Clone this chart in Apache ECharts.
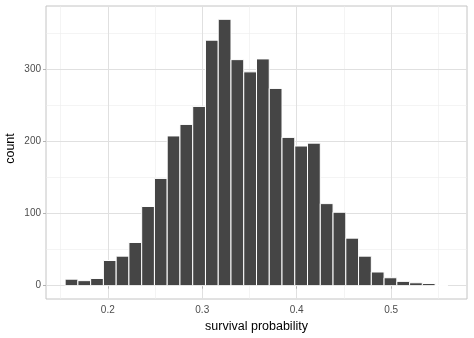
<!DOCTYPE html>
<html>
<head>
<meta charset="utf-8">
<script src="https://cdn.jsdelivr.net/npm/echarts@6/dist/echarts.min.js"></script>
<style>html,body{margin:0;padding:0;background:#fff}#c{width:474px;height:338px}</style>
</head>
<body>
<div id="c"></div>
<script>
// histogram data (30 bins)
const binStart = 0.1548;
const binWidth = 0.01351;
const counts = [9, 7, 10, 35, 41, 60, 110, 149, 208, 224, 249, 341, 370, 314, 297, 315, 274, 206, 194, 198, 114, 102, 66, 41, 19, 11, 6, 4, 3, 0];
const xTicks = [0.2, 0.3, 0.4, 0.5];
const xMinor = [0.15, 0.25, 0.35, 0.45, 0.55];
const yTicks = [0, 100, 200, 300];
const yMinor = [50, 150, 250, 350];

const binData = counts.map((c, i) => [binStart + i * binWidth, binStart + (i + 1) * binWidth, c]);
const xLo = binStart, xHi = binStart + counts.length * binWidth;
const xPad = (xHi - xLo) * 0.05;
const yMax = Math.max(...counts), yPad = yMax * 0.05;

const chart = echarts.init(document.getElementById('c'), null, {renderer: 'canvas'});
const gridLines = [];
xMinor.forEach(v => gridLines.push({xAxis: v, lineStyle: {color: '#ececec', width: 0.6, type: 'solid'}}));
yMinor.forEach(v => gridLines.push({yAxis: v, lineStyle: {color: '#ececec', width: 0.6, type: 'solid'}}));
xTicks.forEach(v => gridLines.push({xAxis: v, lineStyle: {color: '#e0e0e0', width: 1, type: 'solid'}}));
yTicks.forEach(v => gridLines.push({yAxis: v, lineStyle: {color: '#e0e0e0', width: 1, type: 'solid'}}));

chart.setOption({
  animation: false,
  textStyle: {fontFamily: 'Liberation Sans, Arial, sans-serif'},
  grid: {left: 46, right: 7, top: 6, bottom: 39, show: true, borderColor: '#c4c4c4', borderWidth: 1, backgroundColor: 'transparent', outerBoundsMode: 'none', containLabel: false},
  xAxis: {
    type: 'value', min: xLo - xPad, max: xHi + xPad,
    name: 'survival probability', nameLocation: 'middle', nameGap: 20,
    nameTextStyle: {color: '#000', fontSize: 12.5},
    axisLine: {show: false},
    splitLine: {show: false},
    axisTick: {show: true, customValues: xTicks, length: 3, lineStyle: {color: '#b3b3b3'}},
    axisLabel: {customValues: xTicks, color: '#4d4d4d', fontSize: 10, margin: 6, formatter: v => String(v)}
  },
  yAxis: {
    type: 'value', min: -yPad, max: yMax + yPad,
    name: 'count', nameLocation: 'middle', nameGap: 29, nameRotate: 90, nameMoveOverlap: false,
    nameTextStyle: {color: '#000', fontSize: 12.5, padding: [0, 0, 0, 8]},
    axisLine: {show: false},
    splitLine: {show: false},
    axisTick: {show: true, customValues: yTicks, length: 3, lineStyle: {color: '#b3b3b3'}},
    axisLabel: {customValues: yTicks, color: '#4d4d4d', fontSize: 10, margin: 5}
  },
  series: [
    {
      type: 'line', data: [], z: 1, silent: true, symbol: 'none',
      markLine: {silent: true, symbol: 'none', z: 0, label: {show: false}, animation: false, lineStyle: {type: 'solid'}, data: gridLines}
    },
    {
      type: 'custom', z: 2, data: binData,
      renderItem: function (params, api) {
        const p0 = api.coord([api.value(0), api.value(2)]);
        const p1 = api.coord([api.value(1), 0]);
        return {
          type: 'rect',
          shape: {x: p0[0], y: p0[1], width: p1[0] - p0[0], height: p1[1] - p0[1]},
          style: {fill: '#454545', stroke: '#ffffff', lineWidth: 1}
        };
      },
      encode: {x: [0, 1], y: 2}
    }
  ]
});
</script>
</body>
</html>
